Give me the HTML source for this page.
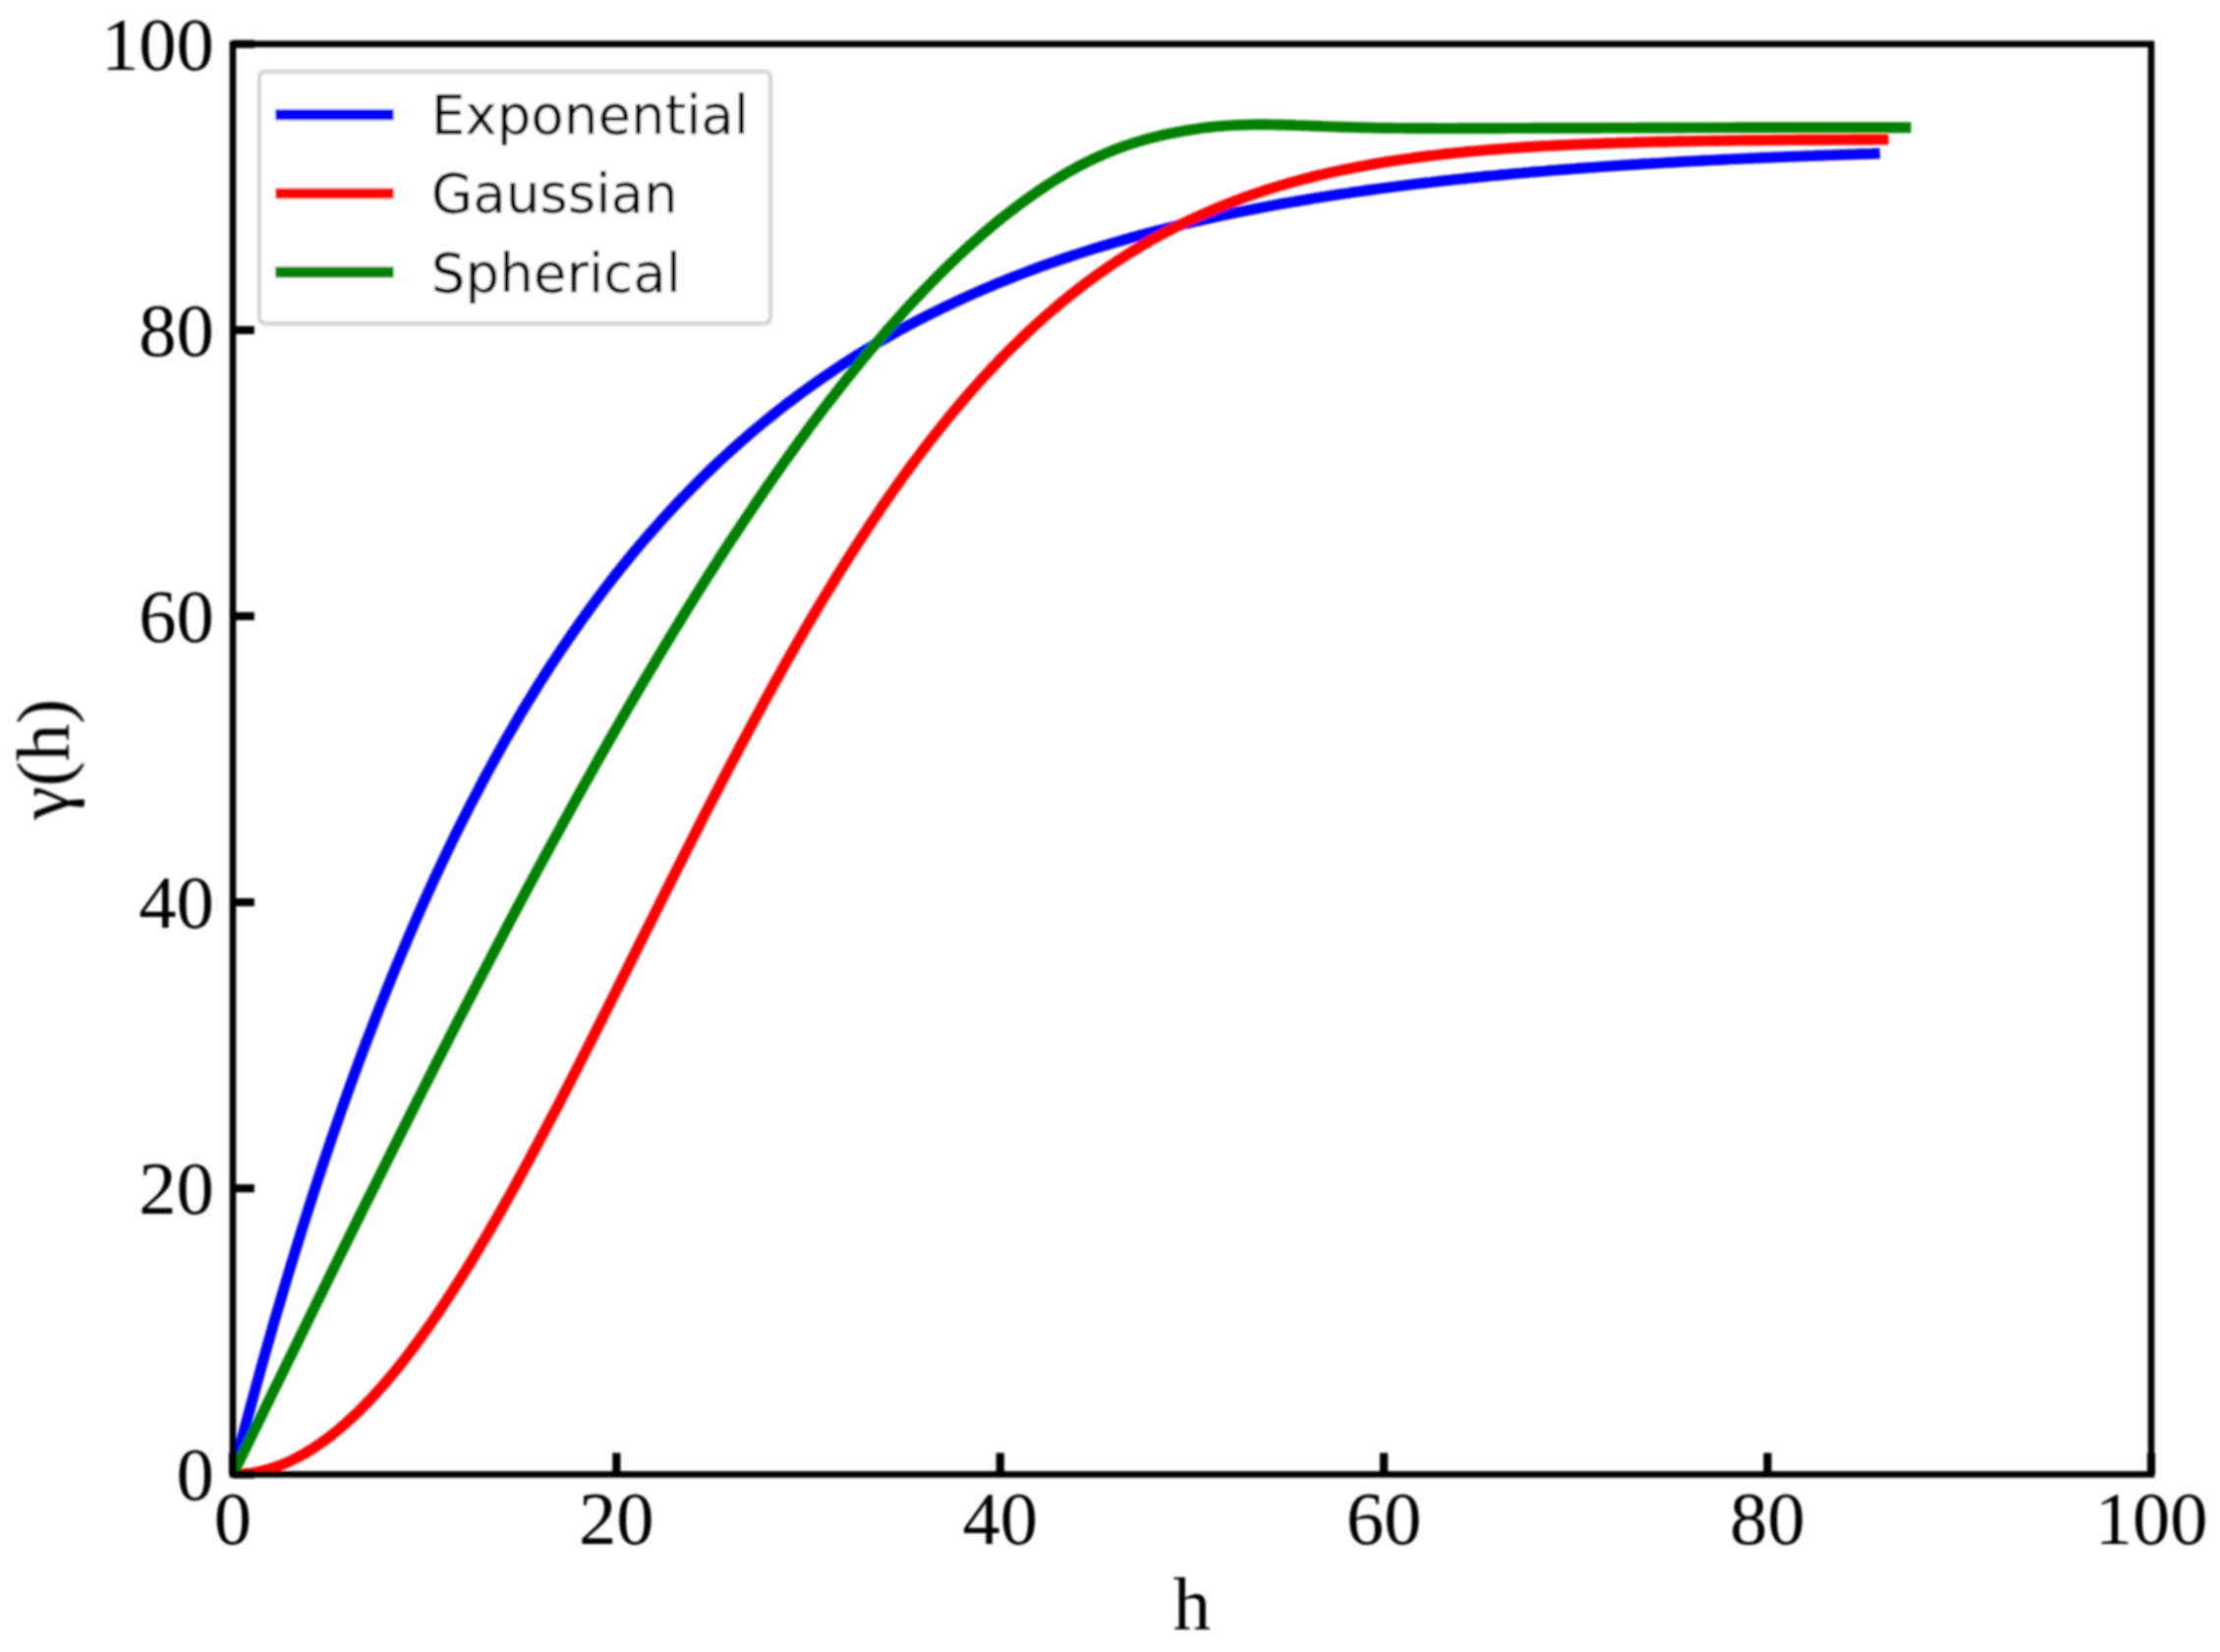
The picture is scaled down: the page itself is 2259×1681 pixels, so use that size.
<!DOCTYPE html>
<html lang="en">
<head>
<meta charset="utf-8">
<title>Variogram models</title>
<style>
html,body{margin:0;padding:0;background:#fff;}
body{width:2259px;height:1681px;overflow:hidden;}
svg{display:block;}
.tk{font-family:"Liberation Serif","Times New Roman",serif;font-size:76.5px;fill:#000;}
.lg{font-family:"DejaVu Sans","Liberation Sans",sans-serif;font-size:54.67px;fill:#000;}
</style>
</head>
<body>
<svg width="2259" height="1681" viewBox="0 0 2259 1681">
<rect x="0" y="0" width="2259" height="1681" fill="#ffffff"/>
<defs><filter id="soft" x="0" y="0" width="2259" height="1681" filterUnits="userSpaceOnUse"><feGaussianBlur stdDeviation="0.8"/></filter><clipPath id="ax"><rect x="236.9" y="44.8" width="1952.1" height="1455.5"/></clipPath></defs>
<g filter="url(#soft)">
<g clip-path="url(#ax)" fill="none" stroke-width="10.93" stroke-linecap="square" stroke-linejoin="round">
<path stroke="#0000ff" d="M236.9,1500.3 L240.8,1485.1 L244.7,1470.1 L248.6,1455.2 L252.5,1440.5 L256.4,1426.0 L260.3,1411.6 L264.2,1397.4 L268.1,1383.3 L272.0,1369.4 L275.9,1355.7 L279.8,1342.1 L283.8,1328.7 L287.7,1315.4 L291.6,1302.3 L295.5,1289.3 L299.4,1276.5 L303.3,1263.8 L307.2,1251.2 L311.1,1238.8 L315.0,1226.5 L318.9,1214.4 L322.8,1202.4 L326.7,1190.5 L330.6,1178.8 L334.5,1167.2 L338.4,1155.8 L342.3,1144.4 L346.2,1133.2 L350.1,1122.1 L354.0,1111.2 L357.9,1100.3 L361.8,1089.6 L365.7,1079.0 L369.6,1068.5 L373.5,1058.2 L377.5,1047.9 L381.4,1037.8 L385.3,1027.8 L389.2,1017.9 L393.1,1008.1 L397.0,998.4 L400.9,988.8 L404.8,979.4 L408.7,970.0 L412.6,960.8 L416.5,951.6 L420.4,942.6 L424.3,933.6 L428.2,924.8 L432.1,916.0 L436.0,907.4 L439.9,898.8 L443.8,890.4 L447.7,882.0 L451.6,873.8 L455.5,865.6 L459.4,857.5 L463.3,849.5 L467.2,841.6 L471.2,833.8 L475.1,826.1 L479.0,818.4 L482.9,810.9 L486.8,803.4 L490.7,796.0 L494.6,788.7 L498.5,781.5 L502.4,774.4 L506.3,767.3 L510.2,760.3 L514.1,753.4 L518.0,746.6 L521.9,739.9 L525.8,733.2 L529.7,726.6 L533.6,720.1 L537.5,713.6 L541.4,707.3 L545.3,701.0 L549.2,694.7 L553.1,688.6 L557.0,682.5 L560.9,676.4 L564.9,670.5 L568.8,664.6 L572.7,658.8 L576.6,653.0 L580.5,647.3 L584.4,641.7 L588.3,636.1 L592.2,630.6 L596.1,625.2 L600.0,619.8 L603.9,614.4 L607.8,609.2 L611.7,604.0 L615.6,598.8 L619.5,593.7 L623.4,588.7 L627.3,583.7 L631.2,578.8 L635.1,574.0 L639.0,569.2 L642.9,564.4 L646.8,559.7 L650.7,555.0 L654.6,550.5 L658.6,545.9 L662.5,541.4 L666.4,537.0 L670.3,532.6 L674.2,528.2 L678.1,523.9 L682.0,519.7 L685.9,515.5 L689.8,511.3 L693.7,507.2 L697.6,503.2 L701.5,499.2 L705.4,495.2 L709.3,491.3 L713.2,487.4 L717.1,483.5 L721.0,479.8 L724.9,476.0 L728.8,472.3 L732.7,468.6 L736.6,465.0 L740.5,461.4 L744.4,457.9 L748.4,454.4 L752.3,450.9 L756.2,447.5 L760.1,444.1 L764.0,440.7 L767.9,437.4 L771.8,434.1 L775.7,430.9 L779.6,427.7 L783.5,424.5 L787.4,421.4 L791.3,418.3 L795.2,415.2 L799.1,412.2 L803.0,409.2 L806.9,406.3 L810.8,403.3 L814.7,400.4 L818.6,397.6 L822.5,394.8 L826.4,392.0 L830.3,389.2 L834.2,386.5 L838.1,383.8 L842.1,381.1 L846.0,378.4 L849.9,375.8 L853.8,373.2 L857.7,370.7 L861.6,368.2 L865.5,365.7 L869.4,363.2 L873.3,360.7 L877.2,358.3 L881.1,355.9 L885.0,353.6 L888.9,351.2 L892.8,348.9 L896.7,346.6 L900.6,344.4 L904.5,342.2 L908.4,340.0 L912.3,337.8 L916.2,335.6 L920.1,333.5 L924.0,331.4 L927.9,329.3 L931.8,327.2 L935.8,325.2 L939.7,323.2 L943.6,321.2 L947.5,319.2 L951.4,317.3 L955.3,315.3 L959.2,313.4 L963.1,311.5 L967.0,309.7 L970.9,307.8 L974.8,306.0 L978.7,304.2 L982.6,302.4 L986.5,300.7 L990.4,298.9 L994.3,297.2 L998.2,295.5 L1002.1,293.8 L1006.0,292.2 L1009.9,290.5 L1013.8,288.9 L1017.7,287.3 L1021.6,285.7 L1025.5,284.1 L1029.5,282.6 L1033.4,281.0 L1037.3,279.5 L1041.2,278.0 L1045.1,276.5 L1049.0,275.0 L1052.9,273.6 L1056.8,272.1 L1060.7,270.7 L1064.6,269.3 L1068.5,267.9 L1072.4,266.6 L1076.3,265.2 L1080.2,263.8 L1084.1,262.5 L1088.0,261.2 L1091.9,259.9 L1095.8,258.6 L1099.7,257.4 L1103.6,256.1 L1107.5,254.9 L1111.4,253.6 L1115.3,252.4 L1119.2,251.2 L1123.2,250.0 L1127.1,248.9 L1131.0,247.7 L1134.9,246.6 L1138.8,245.4 L1142.7,244.3 L1146.6,243.2 L1150.5,242.1 L1154.4,241.0 L1158.3,239.9 L1162.2,238.9 L1166.1,237.8 L1170.0,236.8 L1173.9,235.8 L1177.8,234.8 L1181.7,233.8 L1185.6,232.8 L1189.5,231.8 L1193.4,230.8 L1197.3,229.9 L1201.2,228.9 L1205.1,228.0 L1209.0,227.1 L1213.0,226.1 L1216.9,225.2 L1220.8,224.3 L1224.7,223.5 L1228.6,222.6 L1232.5,221.7 L1236.4,220.9 L1240.3,220.0 L1244.2,219.2 L1248.1,218.4 L1252.0,217.5 L1255.9,216.7 L1259.8,215.9 L1263.7,215.1 L1267.6,214.4 L1271.5,213.6 L1275.4,212.8 L1279.3,212.1 L1283.2,211.3 L1287.1,210.6 L1291.0,209.8 L1294.9,209.1 L1298.8,208.4 L1302.7,207.7 L1306.7,207.0 L1310.6,206.3 L1314.5,205.6 L1318.4,205.0 L1322.3,204.3 L1326.2,203.6 L1330.1,203.0 L1334.0,202.3 L1337.9,201.7 L1341.8,201.1 L1345.7,200.4 L1349.6,199.8 L1353.5,199.2 L1357.4,198.6 L1361.3,198.0 L1365.2,197.4 L1369.1,196.8 L1373.0,196.3 L1376.9,195.7 L1380.8,195.1 L1384.7,194.6 L1388.6,194.0 L1392.5,193.5 L1396.4,193.0 L1400.4,192.4 L1404.3,191.9 L1408.2,191.4 L1412.1,190.9 L1416.0,190.3 L1419.9,189.8 L1423.8,189.3 L1427.7,188.9 L1431.6,188.4 L1435.5,187.9 L1439.4,187.4 L1443.3,186.9 L1447.2,186.5 L1451.1,186.0 L1455.0,185.6 L1458.9,185.1 L1462.8,184.7 L1466.7,184.2 L1470.6,183.8 L1474.5,183.4 L1478.4,182.9 L1482.3,182.5 L1486.2,182.1 L1490.1,181.7 L1494.1,181.3 L1498.0,180.9 L1501.9,180.5 L1505.8,180.1 L1509.7,179.7 L1513.6,179.3 L1517.5,178.9 L1521.4,178.6 L1525.3,178.2 L1529.2,177.8 L1533.1,177.5 L1537.0,177.1 L1540.9,176.8 L1544.8,176.4 L1548.7,176.1 L1552.6,175.7 L1556.5,175.4 L1560.4,175.0 L1564.3,174.7 L1568.2,174.4 L1572.1,174.1 L1576.0,173.7 L1579.9,173.4 L1583.8,173.1 L1587.8,172.8 L1591.7,172.5 L1595.6,172.2 L1599.5,171.9 L1603.4,171.6 L1607.3,171.3 L1611.2,171.0 L1615.1,170.7 L1619.0,170.4 L1622.9,170.2 L1626.8,169.9 L1630.7,169.6 L1634.6,169.3 L1638.5,169.1 L1642.4,168.8 L1646.3,168.6 L1650.2,168.3 L1654.1,168.0 L1658.0,167.8 L1661.9,167.5 L1665.8,167.3 L1669.7,167.0 L1673.6,166.8 L1677.5,166.6 L1681.5,166.3 L1685.4,166.1 L1689.3,165.9 L1693.2,165.6 L1697.1,165.4 L1701.0,165.2 L1704.9,165.0 L1708.8,164.7 L1712.7,164.5 L1716.6,164.3 L1720.5,164.1 L1724.4,163.9 L1728.3,163.7 L1732.2,163.5 L1736.1,163.3 L1740.0,163.1 L1743.9,162.9 L1747.8,162.7 L1751.7,162.5 L1755.6,162.3 L1759.5,162.1 L1763.4,161.9 L1767.3,161.8 L1771.3,161.6 L1775.2,161.4 L1779.1,161.2 L1783.0,161.0 L1786.9,160.9 L1790.8,160.7 L1794.7,160.5 L1798.6,160.4 L1802.5,160.2 L1806.4,160.0 L1810.3,159.9 L1814.2,159.7 L1818.1,159.5 L1822.0,159.4 L1825.9,159.2 L1829.8,159.1 L1833.7,158.9 L1837.6,158.8 L1841.5,158.6 L1845.4,158.5 L1849.3,158.3 L1853.2,158.2 L1857.1,158.0 L1861.0,157.9 L1865.0,157.8 L1868.9,157.6 L1872.8,157.5 L1876.7,157.4 L1880.6,157.2 L1884.5,157.1 L1888.4,157.0 L1892.3,156.8 L1896.2,156.7 L1900.1,156.6 L1904.0,156.5 L1907.5,156.3"/>
<path stroke="#ff0000" d="M236.9,1500.3 L240.8,1500.2 L244.7,1500.1 L248.6,1499.7 L252.5,1499.3 L256.4,1498.8 L260.3,1498.1 L264.2,1497.3 L268.1,1496.4 L272.0,1495.4 L275.9,1494.2 L279.8,1492.9 L283.8,1491.5 L287.7,1490.0 L291.6,1488.4 L295.5,1486.6 L299.4,1484.7 L303.3,1482.7 L307.2,1480.6 L311.1,1478.4 L315.0,1476.0 L318.9,1473.6 L322.8,1471.0 L326.7,1468.3 L330.6,1465.5 L334.5,1462.6 L338.4,1459.6 L342.3,1456.4 L346.2,1453.2 L350.1,1449.8 L354.0,1446.3 L357.9,1442.7 L361.8,1439.1 L365.7,1435.3 L369.6,1431.4 L373.5,1427.4 L377.5,1423.3 L381.4,1419.0 L385.3,1414.7 L389.2,1410.3 L393.1,1405.8 L397.0,1401.2 L400.9,1396.5 L404.8,1391.7 L408.7,1386.8 L412.6,1381.9 L416.5,1376.8 L420.4,1371.6 L424.3,1366.4 L428.2,1361.0 L432.1,1355.6 L436.0,1350.1 L439.9,1344.5 L443.8,1338.8 L447.7,1333.1 L451.6,1327.2 L455.5,1321.3 L459.4,1315.3 L463.3,1309.3 L467.2,1303.1 L471.2,1296.9 L475.1,1290.6 L479.0,1284.3 L482.9,1277.9 L486.8,1271.4 L490.7,1264.8 L494.6,1258.2 L498.5,1251.6 L502.4,1244.8 L506.3,1238.0 L510.2,1231.2 L514.1,1224.3 L518.0,1217.4 L521.9,1210.4 L525.8,1203.3 L529.7,1196.2 L533.6,1189.0 L537.5,1181.9 L541.4,1174.6 L545.3,1167.3 L549.2,1160.0 L553.1,1152.7 L557.0,1145.3 L560.9,1137.8 L564.9,1130.4 L568.8,1122.9 L572.7,1115.3 L576.6,1107.8 L580.5,1100.2 L584.4,1092.6 L588.3,1084.9 L592.2,1077.3 L596.1,1069.6 L600.0,1061.9 L603.9,1054.2 L607.8,1046.4 L611.7,1038.7 L615.6,1030.9 L619.5,1023.2 L623.4,1015.4 L627.3,1007.6 L631.2,999.8 L635.1,992.0 L639.0,984.1 L642.9,976.3 L646.8,968.5 L650.7,960.7 L654.6,952.9 L658.6,945.0 L662.5,937.2 L666.4,929.4 L670.3,921.6 L674.2,913.8 L678.1,906.0 L682.0,898.2 L685.9,890.5 L689.8,882.7 L693.7,875.0 L697.6,867.3 L701.5,859.6 L705.4,851.9 L709.3,844.2 L713.2,836.6 L717.1,828.9 L721.0,821.3 L724.9,813.7 L728.8,806.2 L732.7,798.7 L736.6,791.2 L740.5,783.7 L744.4,776.2 L748.4,768.8 L752.3,761.4 L756.2,754.1 L760.1,746.8 L764.0,739.5 L767.9,732.2 L771.8,725.0 L775.7,717.8 L779.6,710.7 L783.5,703.6 L787.4,696.5 L791.3,689.5 L795.2,682.5 L799.1,675.5 L803.0,668.6 L806.9,661.8 L810.8,654.9 L814.7,648.2 L818.6,641.4 L822.5,634.7 L826.4,628.1 L830.3,621.5 L834.2,615.0 L838.1,608.5 L842.1,602.0 L846.0,595.6 L849.9,589.2 L853.8,582.9 L857.7,576.7 L861.6,570.5 L865.5,564.3 L869.4,558.2 L873.3,552.2 L877.2,546.2 L881.1,540.2 L885.0,534.3 L888.9,528.5 L892.8,522.7 L896.7,516.9 L900.6,511.2 L904.5,505.6 L908.4,500.0 L912.3,494.5 L916.2,489.0 L920.1,483.6 L924.0,478.2 L927.9,472.9 L931.8,467.7 L935.8,462.5 L939.7,457.3 L943.6,452.2 L947.5,447.2 L951.4,442.2 L955.3,437.3 L959.2,432.4 L963.1,427.6 L967.0,422.8 L970.9,418.1 L974.8,413.5 L978.7,408.9 L982.6,404.3 L986.5,399.8 L990.4,395.4 L994.3,391.0 L998.2,386.7 L1002.1,382.4 L1006.0,378.2 L1009.9,374.0 L1013.8,369.9 L1017.7,365.8 L1021.6,361.8 L1025.5,357.8 L1029.5,353.9 L1033.4,350.1 L1037.3,346.3 L1041.2,342.5 L1045.1,338.8 L1049.0,335.1 L1052.9,331.5 L1056.8,328.0 L1060.7,324.5 L1064.6,321.0 L1068.5,317.6 L1072.4,314.3 L1076.3,311.0 L1080.2,307.7 L1084.1,304.5 L1088.0,301.3 L1091.9,298.2 L1095.8,295.2 L1099.7,292.1 L1103.6,289.2 L1107.5,286.2 L1111.4,283.4 L1115.3,280.5 L1119.2,277.7 L1123.2,275.0 L1127.1,272.3 L1131.0,269.6 L1134.9,267.0 L1138.8,264.4 L1142.7,261.9 L1146.6,259.4 L1150.5,256.9 L1154.4,254.5 L1158.3,252.2 L1162.2,249.8 L1166.1,247.5 L1170.0,245.3 L1173.9,243.1 L1177.8,240.9 L1181.7,238.8 L1185.6,236.7 L1189.5,234.6 L1193.4,232.6 L1197.3,230.6 L1201.2,228.6 L1205.1,226.7 L1209.0,224.8 L1213.0,223.0 L1216.9,221.2 L1220.8,219.4 L1224.7,217.6 L1228.6,215.9 L1232.5,214.2 L1236.4,212.6 L1240.3,210.9 L1244.2,209.4 L1248.1,207.8 L1252.0,206.3 L1255.9,204.8 L1259.8,203.3 L1263.7,201.9 L1267.6,200.4 L1271.5,199.1 L1275.4,197.7 L1279.3,196.4 L1283.2,195.1 L1287.1,193.8 L1291.0,192.5 L1294.9,191.3 L1298.8,190.1 L1302.7,188.9 L1306.7,187.8 L1310.6,186.6 L1314.5,185.5 L1318.4,184.5 L1322.3,183.4 L1326.2,182.4 L1330.1,181.4 L1334.0,180.4 L1337.9,179.4 L1341.8,178.4 L1345.7,177.5 L1349.6,176.6 L1353.5,175.7 L1357.4,174.8 L1361.3,174.0 L1365.2,173.2 L1369.1,172.3 L1373.0,171.6 L1376.9,170.8 L1380.8,170.0 L1384.7,169.3 L1388.6,168.6 L1392.5,167.8 L1396.4,167.2 L1400.4,166.5 L1404.3,165.8 L1408.2,165.2 L1412.1,164.5 L1416.0,163.9 L1419.9,163.3 L1423.8,162.7 L1427.7,162.2 L1431.6,161.6 L1435.5,161.1 L1439.4,160.5 L1443.3,160.0 L1447.2,159.5 L1451.1,159.0 L1455.0,158.5 L1458.9,158.1 L1462.8,157.6 L1466.7,157.2 L1470.6,156.7 L1474.5,156.3 L1478.4,155.9 L1482.3,155.5 L1486.2,155.1 L1490.1,154.7 L1494.1,154.3 L1498.0,154.0 L1501.9,153.6 L1505.8,153.3 L1509.7,152.9 L1513.6,152.6 L1517.5,152.3 L1521.4,152.0 L1525.3,151.7 L1529.2,151.4 L1533.1,151.1 L1537.0,150.8 L1540.9,150.5 L1544.8,150.3 L1548.7,150.0 L1552.6,149.7 L1556.5,149.5 L1560.4,149.3 L1564.3,149.0 L1568.2,148.8 L1572.1,148.6 L1576.0,148.4 L1579.9,148.2 L1583.8,148.0 L1587.8,147.8 L1591.7,147.6 L1595.6,147.4 L1599.5,147.2 L1603.4,147.0 L1607.3,146.9 L1611.2,146.7 L1615.1,146.6 L1619.0,146.4 L1622.9,146.2 L1626.8,146.1 L1630.7,146.0 L1634.6,145.8 L1638.5,145.7 L1642.4,145.6 L1646.3,145.4 L1650.2,145.3 L1654.1,145.2 L1658.0,145.1 L1661.9,145.0 L1665.8,144.8 L1669.7,144.7 L1673.6,144.6 L1677.5,144.5 L1681.5,144.4 L1685.4,144.3 L1689.3,144.3 L1693.2,144.2 L1697.1,144.1 L1701.0,144.0 L1704.9,143.9 L1708.8,143.8 L1712.7,143.8 L1716.6,143.7 L1720.5,143.6 L1724.4,143.6 L1728.3,143.5 L1732.2,143.4 L1736.1,143.4 L1740.0,143.3 L1743.9,143.2 L1747.8,143.2 L1751.7,143.1 L1755.6,143.1 L1759.5,143.0 L1763.4,143.0 L1767.3,142.9 L1771.3,142.9 L1775.2,142.8 L1779.1,142.8 L1783.0,142.8 L1786.9,142.7 L1790.8,142.7 L1794.7,142.6 L1798.6,142.6 L1802.5,142.6 L1806.4,142.5 L1810.3,142.5 L1814.2,142.5 L1818.1,142.4 L1822.0,142.4 L1825.9,142.4 L1829.8,142.3 L1833.7,142.3 L1837.6,142.3 L1841.5,142.3 L1845.4,142.2 L1849.3,142.2 L1853.2,142.2 L1857.1,142.2 L1861.0,142.2 L1865.0,142.1 L1868.9,142.1 L1872.8,142.1 L1876.7,142.1 L1880.6,142.1 L1884.5,142.0 L1888.4,142.0 L1892.3,142.0 L1896.2,142.0 L1900.1,142.0 L1904.0,142.0 L1907.9,141.9 L1911.8,141.9 L1915.7,141.9 L1916.3,141.9"/>
<path stroke="#008000" d="M236.9,1500.3 L240.8,1492.3 L244.7,1484.3 L248.6,1476.3 L252.5,1468.3 L256.4,1460.3 L260.3,1452.3 L264.2,1444.3 L268.1,1436.3 L272.0,1428.3 L275.9,1420.3 L279.8,1412.4 L283.8,1404.4 L287.7,1396.4 L291.6,1388.4 L295.5,1380.4 L299.4,1372.5 L303.3,1364.5 L307.2,1356.5 L311.1,1348.6 L315.0,1340.6 L318.9,1332.7 L322.8,1324.7 L326.7,1316.8 L330.6,1308.9 L334.5,1300.9 L338.4,1293.0 L342.3,1285.1 L346.2,1277.2 L350.1,1269.3 L354.0,1261.4 L357.9,1253.5 L361.8,1245.6 L365.7,1237.8 L369.6,1229.9 L373.5,1222.0 L377.5,1214.2 L381.4,1206.3 L385.3,1198.5 L389.2,1190.7 L393.1,1182.9 L397.0,1175.1 L400.9,1167.3 L404.8,1159.5 L408.7,1151.7 L412.6,1144.0 L416.5,1136.2 L420.4,1128.5 L424.3,1120.8 L428.2,1113.1 L432.1,1105.4 L436.0,1097.7 L439.9,1090.0 L443.8,1082.3 L447.7,1074.7 L451.6,1067.0 L455.5,1059.4 L459.4,1051.8 L463.3,1044.2 L467.2,1036.6 L471.2,1029.0 L475.1,1021.5 L479.0,1013.9 L482.9,1006.4 L486.8,998.9 L490.7,991.4 L494.6,983.9 L498.5,976.5 L502.4,969.0 L506.3,961.6 L510.2,954.2 L514.1,946.8 L518.0,939.4 L521.9,932.0 L525.8,924.7 L529.7,917.3 L533.6,910.0 L537.5,902.7 L541.4,895.5 L545.3,888.2 L549.2,881.0 L553.1,873.8 L557.0,866.6 L560.9,859.4 L564.9,852.2 L568.8,845.1 L572.7,838.0 L576.6,830.9 L580.5,823.8 L584.4,816.8 L588.3,809.7 L592.2,802.7 L596.1,795.8 L600.0,788.8 L603.9,781.8 L607.8,774.9 L611.7,768.0 L615.6,761.2 L619.5,754.3 L623.4,747.5 L627.3,740.7 L631.2,733.9 L635.1,727.2 L639.0,720.4 L642.9,713.7 L646.8,707.1 L650.7,700.4 L654.6,693.8 L658.6,687.2 L662.5,680.6 L666.4,674.1 L670.3,667.5 L674.2,661.0 L678.1,654.6 L682.0,648.1 L685.9,641.7 L689.8,635.3 L693.7,629.0 L697.6,622.7 L701.5,616.4 L705.4,610.1 L709.3,603.8 L713.2,597.6 L717.1,591.4 L721.0,585.3 L724.9,579.2 L728.8,573.1 L732.7,567.0 L736.6,561.0 L740.5,555.0 L744.4,549.0 L748.4,543.1 L752.3,537.2 L756.2,531.3 L760.1,525.5 L764.0,519.7 L767.9,513.9 L771.8,508.1 L775.7,502.4 L779.6,496.7 L783.5,491.1 L787.4,485.5 L791.3,479.9 L795.2,474.4 L799.1,468.9 L803.0,463.4 L806.9,458.0 L810.8,452.6 L814.7,447.2 L818.6,441.9 L822.5,436.6 L826.4,431.3 L830.3,426.1 L834.2,420.9 L838.1,415.8 L842.1,410.7 L846.0,405.6 L849.9,400.6 L853.8,395.6 L857.7,390.6 L861.6,385.7 L865.5,380.8 L869.4,376.0 L873.3,371.2 L877.2,366.4 L881.1,361.7 L885.0,357.0 L888.9,352.4 L892.8,347.8 L896.7,343.2 L900.6,338.7 L904.5,334.2 L908.4,329.8 L912.3,325.4 L916.2,321.0 L920.1,316.7 L924.0,312.4 L927.9,308.2 L931.8,304.0 L935.8,299.9 L939.7,295.8 L943.6,291.7 L947.5,287.7 L951.4,283.8 L955.3,279.8 L959.2,276.0 L963.1,272.1 L967.0,268.3 L970.9,264.6 L974.8,260.9 L978.7,257.2 L982.6,253.6 L986.5,250.1 L990.4,246.6 L994.3,243.1 L998.2,239.7 L1002.1,236.3 L1006.0,233.0 L1009.9,229.7 L1013.8,226.5 L1017.7,223.3 L1021.6,220.2 L1025.5,217.1 L1029.5,214.1 L1033.4,211.1 L1037.3,208.2 L1041.2,205.3 L1045.1,202.4 L1049.0,199.7 L1052.9,196.9 L1056.8,194.2 L1060.7,191.6 L1064.6,189.0 L1068.5,186.5 L1072.4,184.0 L1076.3,181.5 L1080.2,179.2 L1084.1,176.8 L1088.0,174.6 L1091.9,172.4 L1095.8,170.2 L1099.7,168.1 L1103.6,166.1 L1107.5,164.2 L1111.4,162.3 L1115.3,160.4 L1119.2,158.7 L1123.2,157.0 L1127.1,155.3 L1131.0,153.7 L1134.9,152.2 L1138.8,150.7 L1142.7,149.2 L1146.6,147.9 L1150.5,146.6 L1154.4,145.3 L1158.3,144.1 L1162.2,142.9 L1166.1,141.8 L1170.0,140.7 L1173.9,139.7 L1177.8,138.8 L1181.7,137.8 L1185.6,136.9 L1189.5,136.1 L1193.4,135.3 L1197.3,134.5 L1201.2,133.8 L1205.1,133.1 L1209.0,132.5 L1213.0,131.8 L1216.9,131.3 L1220.8,130.7 L1224.7,130.2 L1228.6,129.7 L1232.5,129.3 L1236.4,128.9 L1240.3,128.5 L1244.2,128.2 L1248.1,127.9 L1252.0,127.6 L1255.9,127.4 L1259.8,127.2 L1263.7,127.1 L1267.6,127.0 L1271.5,126.9 L1275.4,126.8 L1279.3,126.8 L1283.2,126.8 L1287.1,126.8 L1291.0,126.8 L1294.9,126.9 L1298.8,127.0 L1302.7,127.0 L1306.7,127.1 L1310.6,127.2 L1314.5,127.3 L1318.4,127.5 L1322.3,127.6 L1326.2,127.7 L1330.1,127.9 L1334.0,128.0 L1337.9,128.2 L1341.8,128.3 L1345.7,128.5 L1349.6,128.6 L1353.5,128.8 L1357.4,128.9 L1361.3,129.0 L1365.2,129.2 L1369.1,129.3 L1373.0,129.4 L1376.9,129.5 L1380.8,129.6 L1384.7,129.7 L1388.6,129.8 L1392.5,129.9 L1396.4,130.0 L1400.4,130.1 L1404.3,130.2 L1408.2,130.2 L1412.1,130.3 L1416.0,130.3 L1419.9,130.4 L1423.8,130.4 L1427.7,130.4 L1431.6,130.5 L1435.5,130.5 L1439.4,130.5 L1443.3,130.5 L1447.2,130.5 L1451.1,130.5 L1455.0,130.5 L1458.9,130.5 L1462.8,130.6 L1466.7,130.6 L1470.6,130.6 L1474.5,130.6 L1478.4,130.6 L1482.3,130.6 L1486.2,130.5 L1490.1,130.5 L1494.1,130.5 L1498.0,130.5 L1501.9,130.5 L1505.8,130.5 L1509.7,130.5 L1513.6,130.5 L1517.5,130.5 L1521.4,130.5 L1525.3,130.5 L1529.2,130.5 L1533.1,130.4 L1537.0,130.4 L1540.9,130.4 L1544.8,130.4 L1548.7,130.4 L1552.6,130.4 L1556.5,130.4 L1560.4,130.3 L1564.3,130.3 L1568.2,130.3 L1572.1,130.3 L1576.0,130.3 L1579.9,130.3 L1583.8,130.3 L1587.8,130.3 L1591.7,130.3 L1595.6,130.2 L1599.5,130.2 L1603.4,130.2 L1607.3,130.2 L1611.2,130.2 L1615.1,130.2 L1619.0,130.2 L1622.9,130.2 L1626.8,130.2 L1630.7,130.1 L1634.6,130.1 L1638.5,130.1 L1642.4,130.1 L1646.3,130.1 L1650.2,130.1 L1654.1,130.1 L1658.0,130.1 L1661.9,130.1 L1665.8,130.1 L1669.7,130.0 L1673.6,130.0 L1677.5,130.0 L1681.5,130.0 L1685.4,130.0 L1689.3,130.0 L1693.2,130.0 L1697.1,130.0 L1701.0,130.0 L1704.9,130.0 L1708.8,130.0 L1712.7,130.0 L1716.6,129.9 L1720.5,129.9 L1724.4,129.9 L1728.3,129.9 L1732.2,129.9 L1736.1,129.9 L1740.0,129.9 L1743.9,129.9 L1747.8,129.9 L1751.7,129.9 L1755.6,129.9 L1759.5,129.9 L1763.4,129.9 L1767.3,129.8 L1771.3,129.8 L1775.2,129.8 L1779.1,129.8 L1783.0,129.8 L1786.9,129.8 L1790.8,129.8 L1794.7,129.8 L1798.6,129.8 L1802.5,129.8 L1806.4,129.8 L1810.3,129.8 L1814.2,129.8 L1818.1,129.8 L1822.0,129.8 L1825.9,129.8 L1829.8,129.8 L1833.7,129.8 L1837.6,129.7 L1841.5,129.7 L1845.4,129.7 L1849.3,129.7 L1853.2,129.7 L1857.1,129.7 L1861.0,129.7 L1865.0,129.7 L1868.9,129.7 L1872.8,129.7 L1876.7,129.7 L1880.6,129.7 L1884.5,129.7 L1888.4,129.7 L1892.3,129.7 L1896.2,129.7 L1900.1,129.7 L1904.0,129.7 L1907.9,129.7 L1911.8,129.7 L1915.7,129.7 L1919.6,129.7 L1923.5,129.7 L1927.4,129.7 L1931.3,129.7 L1935.2,129.7 L1939.1,129.7 L1939.1,129.7"/>
</g>

<g stroke="#000" stroke-width="8.2" fill="none">
<line x1="236.90" y1="1500.3" x2="236.90" y2="1478.40"/>
<line x1="236.9" y1="1500.30" x2="258.80" y2="1500.30"/>
<line x1="627.32" y1="1500.3" x2="627.32" y2="1478.40"/>
<line x1="236.9" y1="1209.20" x2="258.80" y2="1209.20"/>
<line x1="1017.74" y1="1500.3" x2="1017.74" y2="1478.40"/>
<line x1="236.9" y1="918.10" x2="258.80" y2="918.10"/>
<line x1="1408.16" y1="1500.3" x2="1408.16" y2="1478.40"/>
<line x1="236.9" y1="627.00" x2="258.80" y2="627.00"/>
<line x1="1798.58" y1="1500.3" x2="1798.58" y2="1478.40"/>
<line x1="236.9" y1="335.90" x2="258.80" y2="335.90"/>
<line x1="2189.00" y1="1500.3" x2="2189.00" y2="1478.40"/>
<line x1="236.9" y1="44.80" x2="258.80" y2="44.80"/>
</g>
<rect x="236.9" y="44.8" width="1952.10" height="1455.50" fill="none" stroke="#000" stroke-width="6.6" stroke-linejoin="miter"/>
<path d="M270.85,72.8 L776.95,72.8 Q783.95,72.8 783.95,79.80 L783.95,322.30 Q783.95,329.3 776.95,329.3 L270.85,329.3 Q263.85,329.3 263.85,322.30 L263.85,79.80 Q263.85,72.8 270.85,72.8 Z" fill="#ffffff" fill-opacity="0.8" stroke="#cccccc" stroke-opacity="0.8" stroke-width="4.4"/>
<line x1="285.72" y1="116.70" x2="395.06" y2="116.70" stroke="#0000ff" stroke-width="10.93" stroke-linecap="square"/>
<text class="lg" x="438.80" y="136.30">Exponential</text>
<line x1="285.72" y1="196.85" x2="395.06" y2="196.85" stroke="#ff0000" stroke-width="10.93" stroke-linecap="square"/>
<text class="lg" x="438.80" y="215.70">Gaussian</text>
<line x1="285.72" y1="277.00" x2="395.06" y2="277.00" stroke="#008000" stroke-width="10.93" stroke-linecap="square"/>
<text class="lg" x="438.80" y="296.70">Spherical</text>
<text class="tk" text-anchor="middle" x="236.90" y="1571.2">0</text>
<text class="tk" text-anchor="end" x="217.8" y="1525.60">0</text>
<text class="tk" text-anchor="middle" x="627.32" y="1571.2">20</text>
<text class="tk" text-anchor="end" x="217.8" y="1234.74">20</text>
<text class="tk" text-anchor="middle" x="1017.74" y="1571.2">40</text>
<text class="tk" text-anchor="end" x="217.8" y="943.88">40</text>
<text class="tk" text-anchor="middle" x="1408.16" y="1571.2">60</text>
<text class="tk" text-anchor="end" x="217.8" y="653.02">60</text>
<text class="tk" text-anchor="middle" x="1798.58" y="1571.2">80</text>
<text class="tk" text-anchor="end" x="217.8" y="362.16">80</text>
<text class="tk" text-anchor="middle" x="2189.00" y="1571.2">100</text>
<text class="tk" text-anchor="end" x="217.8" y="71.30">100</text>
<text class="tk" text-anchor="middle" x="1212.95" y="1658.0">h</text>
<text class="tk" text-anchor="middle" transform="translate(69.8,772.55) rotate(-90)">γ(h)</text>
</g>
</svg>
</body>
</html>
